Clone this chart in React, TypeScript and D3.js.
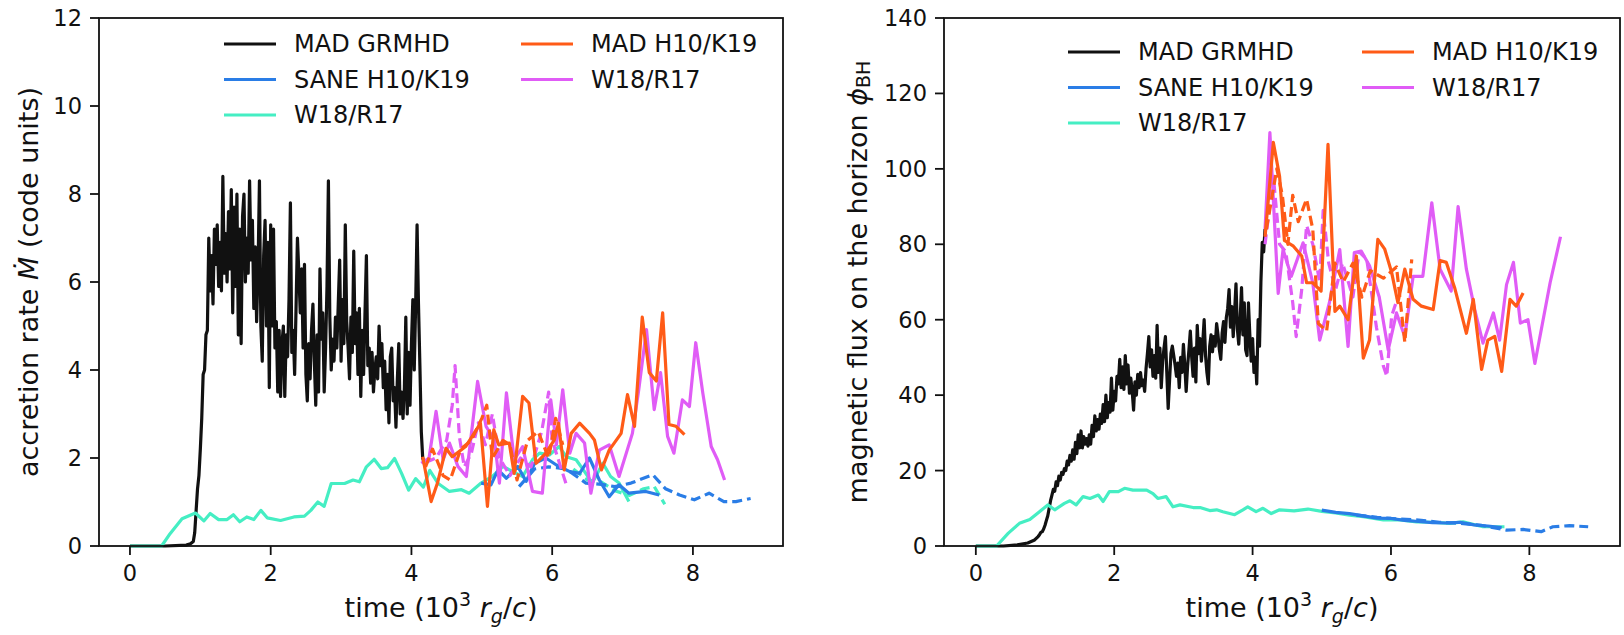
import React from 'react';
import * as d3 from 'd3';

type Pt = [number, number];

// ---- shared time grid for the dense MAD GRMHD runs ----
const madStart = 0.9;
const madStep = 0.02;

// ---- left panel: accretion rate ----
const madRateHead: Pt[] = [[0, 0], [0.5, 0], [0.8, 0.02], [0.86, 0.05]];
const madRateValues = [
  0.1, 0.3, 0.8, 1.3, 1.6, 2.2, 2.9, 3.9, 4.0, 4.8, 4.9, 7.0, 5.8, 6.6, 5.5, 7.2, 6.4, 7.3, 5.9, 6.9,
  5.8, 8.4, 6.2, 7.1, 6.0, 7.6, 6.3, 8.1, 5.3, 7.7, 5.9, 8.0, 4.8, 7.2, 4.6, 7.5, 8.0, 6.0, 7.0, 6.2,
  8.3, 6.5, 7.4, 5.4, 6.8, 5.1, 6.3, 8.3, 5.0, 4.2, 6.6, 7.4, 5.0, 6.9, 3.6, 7.3, 5.0, 7.2, 4.5, 5.1,
  3.5, 4.9, 3.4, 4.6, 5.0, 3.4, 4.8, 4.3, 5.6, 7.8, 4.4, 4.9, 3.9, 5.4, 7.0, 6.2, 5.3, 6.3, 4.5, 6.4,
  3.9, 3.3, 4.6, 3.8, 4.9, 5.5, 4.2, 3.2, 4.8, 3.5, 6.3, 4.7, 5.3, 3.5, 4.5, 5.9, 8.3, 5.2, 4.0, 4.7,
  4.2, 5.2, 4.5, 5.5, 6.5, 4.2, 5.6, 4.6, 7.3, 5.1, 4.5, 3.8, 5.2, 4.4, 6.7, 4.6, 5.3, 3.9, 5.4, 3.4,
  4.9, 3.9, 5.3, 6.6, 4.1, 4.5, 3.7, 4.4, 3.5, 4.0, 4.3, 3.8, 5.0, 4.1, 4.6, 3.6, 4.2, 3.1, 3.9, 2.8,
  4.3, 4.5, 3.3, 3.6, 2.7, 3.8, 4.6, 3.0, 3.5, 2.9, 3.6, 5.2, 3.0, 4.4, 3.2, 4.6, 5.6, 4.0, 5.5, 7.3,
  5.5, 4.1, 2.6, 2.0, 1.9,
];
const w18EarlyRate: Pt[] = [
  [0, 0], [0.45, 0], [0.57, 0.28], [0.74, 0.62], [0.93, 0.75], [1.05, 0.57], [1.14, 0.74], [1.26, 0.6],
  [1.38, 0.6], [1.47, 0.71], [1.56, 0.55], [1.66, 0.66], [1.76, 0.6], [1.86, 0.81], [1.95, 0.64],
  [2.14, 0.58], [2.33, 0.66], [2.48, 0.68], [2.57, 0.81], [2.67, 1.0], [2.76, 0.9], [2.86, 1.42],
  [3.05, 1.42], [3.17, 1.5], [3.26, 1.46], [3.36, 1.8], [3.47, 1.97], [3.57, 1.76], [3.66, 1.78],
  [3.76, 1.99], [3.86, 1.65], [3.96, 1.27], [4.06, 1.53], [4.17, 1.34], [4.26, 1.72], [4.38, 1.42],
  [4.54, 1.24], [4.71, 1.28], [4.82, 1.2], [4.99, 1.43], [5.15, 1.58], [5.3, 1.81], [5.44, 1.69],
  [5.58, 1.58], [5.72, 1.96], [5.82, 2.11], [5.96, 2.07], [6.1, 2.26], [6.2, 2.03], [6.34, 1.96],
  [6.46, 1.69], [6.57, 1.43], [6.72, 1.88], [6.83, 1.58], [6.95, 1.43], [7.09, 1.01],
];
const w18EarlyRateDash: Pt[] = [
  [6.3, 1.75], [6.5, 1.5], [6.7, 1.45], [6.9, 1.25], [7.1, 1.15], [7.3, 1.3], [7.45, 1.35], [7.6, 0.95],
];
const saneRate: Pt[] = [
  [4.99, 1.43], [5.13, 1.39], [5.23, 1.73], [5.35, 1.54], [5.51, 1.81], [5.63, 1.47], [5.75, 1.88],
  [5.91, 2.0], [6.06, 1.84], [6.25, 1.69], [6.39, 1.65], [6.53, 2.0], [6.67, 1.5], [6.81, 1.12],
  [6.95, 1.39], [7.09, 1.2], [7.33, 1.24], [7.52, 1.16],
];
const saneRateDash: Pt[] = [
  [5.53, 1.35], [5.75, 1.75], [5.95, 1.8], [6.2, 1.75], [6.48, 1.43], [6.7, 1.4], [6.89, 1.35],
  [7.12, 1.43], [7.43, 1.62], [7.61, 1.3], [7.81, 1.16], [8.02, 1.05], [8.23, 1.2], [8.44, 1.01],
  [8.61, 1.01], [8.82, 1.08],
];
const madHKRate: Pt[] = [
  [4.16, 2.03], [4.28, 1.01], [4.37, 1.43], [4.49, 2.22], [4.58, 2.03], [4.77, 2.26], [4.98, 2.79],
  [5.08, 0.9], [5.17, 2.64], [5.24, 2.3], [5.39, 2.34], [5.46, 1.65], [5.58, 3.4], [5.67, 3.25],
  [5.77, 1.88], [5.91, 2.11], [6.03, 2.41], [6.09, 2.79], [6.17, 1.73], [6.27, 2.56], [6.39, 2.79],
  [6.53, 2.56], [6.6, 2.41], [6.7, 1.73], [6.81, 2.18], [6.98, 2.56], [7.07, 3.44], [7.17, 2.72],
  [7.28, 5.2], [7.38, 3.94], [7.48, 3.75], [7.57, 5.3], [7.66, 2.76], [7.76, 2.72], [7.88, 2.53],
];
const madHKRateDash: Pt[] = [
  [4.2, 1.8], [4.3, 2.2], [4.45, 1.6], [4.55, 1.5], [4.7, 2.2], [4.85, 2.4], [5.0, 2.9], [5.07, 3.2],
  [5.15, 2.0], [5.3, 2.4], [5.4, 2.3], [5.5, 1.5], [5.65, 2.4], [5.8, 2.6], [5.95, 2.0], [6.05, 2.9],
  [6.15, 2.3],
];
const w18Rate: Pt[] = [
  [4.14, 1.88], [4.25, 2.0], [4.35, 3.06], [4.45, 1.96], [4.54, 2.34], [4.66, 1.81], [4.78, 1.58],
  [4.94, 3.74], [5.06, 2.72], [5.18, 2.41], [5.25, 1.43], [5.35, 3.48], [5.46, 1.96], [5.58, 2.26],
  [5.72, 1.24], [5.86, 1.2], [5.98, 3.32], [6.06, 2.3], [6.15, 3.55], [6.25, 2.11], [6.34, 2.56],
  [6.46, 2.34], [6.55, 1.2], [6.67, 2.18], [6.81, 2.3], [6.95, 1.58], [7.14, 2.56], [7.23, 3.55],
  [7.34, 4.92], [7.45, 3.1], [7.54, 3.94], [7.64, 2.49], [7.73, 2.11], [7.85, 3.32], [7.95, 3.17],
  [8.04, 4.62], [8.14, 3.48], [8.26, 2.26], [8.35, 1.96], [8.45, 1.5],
];
const w18RateDash: Pt[] = [
  [4.2, 1.9], [4.35, 2.0], [4.5, 2.4], [4.58, 3.2], [4.62, 4.1], [4.68, 2.5], [4.75, 1.8], [4.85, 2.1],
  [4.95, 2.8], [5.05, 2.3], [5.15, 3.0], [5.25, 2.0], [5.4, 1.6], [5.55, 2.0], [5.7, 1.8], [5.85, 2.6],
  [5.95, 3.5], [6.0, 2.4], [6.1, 1.9], [6.2, 1.4],
];

// ---- right panel: magnetic flux ----
const madFluxHead: Pt[] = [[0, 0], [0.4, 0], [0.6, 0.3], [0.75, 0.8], [0.85, 1.6]];
const madFluxValues = [
  2.5, 3.0, 3.6, 3.8, 4.5, 5.5, 6.8, 8.0, 10.0, 12.0, 13.5, 15.0, 14.5, 17.0, 16.0, 18.5, 17.5, 19.5, 19.0, 20.5,
  20.0, 22.5, 21.5, 24.0, 22.5, 25.5, 23.0, 27.5, 24.5, 29.5, 26.0, 30.5, 26.0, 29.0, 27.0, 28.5, 26.5, 29.5, 27.0, 32.0,
  29.0, 34.5, 30.5, 33.5, 31.0, 35.0, 32.5, 37.5, 33.0, 40.0, 34.0, 38.0, 35.5, 44.5, 36.0, 41.0, 38.5, 45.0, 43.0, 49.5,
  42.0, 47.5, 41.5, 50.5, 43.0, 48.0, 40.5, 44.5, 41.0, 36.0, 43.5, 40.0, 45.5, 42.0, 46.0, 42.5, 44.0, 41.0, 47.0, 51.0,
  55.5, 47.5, 52.0, 45.0, 50.5, 44.5, 58.5, 46.0, 52.5, 42.0, 49.0, 52.5, 55.5, 46.0, 36.5, 44.0, 51.0, 53.0, 50.5, 48.0,
  45.0, 48.5, 42.0, 50.0, 46.0, 53.5, 48.0, 41.0, 47.5, 52.0, 57.0, 50.0, 45.0, 52.5, 43.5, 58.5, 51.0, 55.0, 49.0, 54.0,
  60.0, 50.5, 46.0, 43.0, 53.0, 56.0, 51.5, 55.5, 53.0, 59.0, 56.0, 52.0, 49.5, 56.5, 59.5, 54.0, 60.5, 63.0, 68.0, 58.0,
  63.5, 55.5, 62.0, 69.5, 57.5, 53.5, 60.0, 68.5, 56.0, 64.5, 52.0, 50.5, 64.5, 56.0, 49.0, 55.0, 46.0, 50.0, 43.0, 60.0,
  53.0, 70.0, 80.5, 78.0, 84.0,
];
const w18EarlyFlux: Pt[] = [
  [0, 0], [0.3, 0], [0.47, 3.4], [0.63, 6], [0.78, 7], [0.92, 9.1], [1.04, 10.9], [1.14, 9.6],
  [1.28, 11.3], [1.36, 12], [1.45, 10.9], [1.55, 13.1], [1.65, 12.6], [1.77, 13.5], [1.84, 11.8],
  [1.93, 14.4], [2.06, 14.4], [2.15, 15.3], [2.27, 14.8], [2.47, 14.8], [2.56, 13.9], [2.63, 12.6],
  [2.75, 13.1], [2.85, 10.4], [2.95, 10.9], [3.14, 10.2], [3.24, 10.2], [3.38, 9.4], [3.48, 9.6],
  [3.57, 9.1], [3.74, 8.3], [3.86, 9.6], [3.93, 10.4], [4.05, 9.1], [4.15, 10], [4.27, 8.6],
  [4.39, 9.6], [4.6, 9.3], [4.8, 9.8], [5.0, 9.2], [5.2, 8.8], [5.4, 8.2], [5.6, 7.8], [5.89, 6.9],
  [6.1, 7.0], [6.37, 6.4], [6.6, 6.3], [6.85, 6.0], [7.04, 6.4], [7.33, 5.1], [7.64, 5.1],
];
const saneFlux: Pt[] = [
  [5.0, 9.5], [5.2, 8.9], [5.4, 8.6], [5.6, 8.0], [5.8, 7.4], [6.0, 7.3], [6.2, 6.8], [6.4, 6.5],
  [6.6, 6.2], [6.8, 6.1], [7.0, 6.3], [7.2, 5.6], [7.4, 5.3], [7.6, 4.9],
];
const saneFluxDash: Pt[] = [
  [5.5, 8.2], [5.8, 7.6], [6.1, 7.2], [6.4, 6.9], [6.7, 6.3], [7.0, 6.0], [7.3, 5.5], [7.67, 4.2],
  [7.91, 4.4], [8.17, 3.8], [8.34, 5.1], [8.58, 5.4], [8.85, 5.1],
];
const madHKFlux: Pt[] = [
  [4.18, 82], [4.3, 107], [4.39, 98], [4.46, 81], [4.59, 79.5], [4.71, 76.9], [4.78, 69.8], [4.87, 69.8],
  [4.99, 67.6], [5.09, 106.5], [5.19, 62.2], [5.26, 63.6], [5.38, 60], [5.5, 76.9], [5.6, 49.8],
  [5.69, 54.6], [5.81, 81.3], [5.91, 78.7], [6.01, 72.5], [6.1, 64.5], [6.2, 73.4], [6.32, 65.4],
  [6.44, 63.6], [6.61, 62.7], [6.71, 75.7], [6.8, 75.2], [6.92, 68.5], [7.09, 56.4], [7.19, 65.4],
  [7.31, 46.8], [7.4, 54.6], [7.5, 55.6], [7.6, 46.3], [7.72, 65.4], [7.81, 63.6], [7.91, 67.1],
];
const madHKFluxDash: Pt[] = [
  [4.2, 84], [4.35, 100], [4.43, 93], [4.51, 80], [4.58, 93], [4.66, 86], [4.78, 92], [4.87, 84],
  [4.95, 59], [5.07, 57], [5.19, 75], [5.31, 70], [5.45, 75], [5.58, 66], [5.7, 73], [5.89, 71],
  [6.08, 74], [6.2, 54], [6.3, 76],
];
const w18Flux: Pt[] = [
  [4.18, 84], [4.25, 109.6], [4.37, 67], [4.44, 78.6], [4.56, 71.5], [4.73, 80.4], [4.87, 69.8],
  [4.97, 54.6], [5.11, 64.5], [5.26, 78.6], [5.38, 52.9], [5.47, 77.8], [5.57, 78.2], [5.69, 74.3],
  [5.83, 66], [5.96, 52], [6.08, 61.8], [6.2, 55.5], [6.32, 71.5], [6.46, 71.5], [6.59, 91],
  [6.71, 73.4], [6.87, 67.6], [6.97, 90], [7.09, 73.4], [7.21, 62.7], [7.33, 53.8], [7.48, 61.8],
  [7.57, 54.6], [7.67, 69.3], [7.77, 75.2], [7.87, 59.1], [7.98, 60], [8.08, 48.4], [8.3, 69.8],
  [8.45, 82],
];
const w18FluxDash: Pt[] = [
  [4.18, 80], [4.3, 98], [4.39, 80], [4.48, 78], [4.58, 64.5], [4.63, 55.5], [4.71, 68], [4.78, 85],
  [4.87, 80], [4.97, 70], [5.02, 89], [5.1, 75], [5.2, 68], [5.3, 75], [5.45, 66], [5.54, 78],
  [5.65, 76], [5.79, 58], [5.89, 47.7], [5.94, 45], [6.01, 61], [6.1, 66],
];

const yTicksRate = [0, 2, 4, 6, 8, 10, 12];
const yTicksFlux = [0, 20, 40, 60, 80, 100, 120, 140];
const xTicks = [0, 2, 4, 6, 8];

const legendLabels = ['MAD GRMHD', 'SANE H10/K19', 'W18/R17', 'MAD H10/K19', 'W18/R17'];

const C_MAD = '#111111';
const C_SANE = '#2a7de6';
const C_W18E = '#45eec3';
const C_MADHK = '#ff5b17';
const C_W18 = '#e05cf6';

const FONT = 'DejaVu Sans, sans-serif';

const withGrid = (head: Pt[], values: number[]): Pt[] =>
  head.concat(values.map((v, i) => [madStart + i * madStep, v] as Pt));

type Series = { data: Pt[]; color: string; dash?: boolean; width?: number };

type PanelProps = {
  left: number; right: number; top: number; bottom: number;
  xDomain: [number, number]; yDomain: [number, number];
  yTicks: number[];
  series: Series[];
  legend: { x1: number; x2: number; y0: number };
  ylabel: React.ReactNode;
  ylabelX: number;
};

const Panel = ({ left, right, top, bottom, xDomain, yDomain, yTicks, series, legend, ylabel, ylabelX }: PanelProps) => {
  const x = d3.scaleLinear().domain(xDomain).range([left, right]);
  const y = d3.scaleLinear().domain(yDomain).range([bottom, top]);
  const line = d3.line<Pt>().x(d => x(d[0])).y(d => y(d[1]));
  const rowGap = 35.5;
  const legendItems = [
    { col: 0, row: 0, color: C_MAD, label: legendLabels[0] },
    { col: 0, row: 1, color: C_SANE, label: legendLabels[1] },
    { col: 0, row: 2, color: C_W18E, label: legendLabels[2] },
    { col: 1, row: 0, color: C_MADHK, label: legendLabels[3] },
    { col: 1, row: 1, color: C_W18, label: legendLabels[4] },
  ];
  const midX = (left + right) / 2;
  const midY = (top + bottom) / 2;
  return (
    <g fontFamily={FONT}>
      {series.map((s, i) => (
        <path key={i} d={line(s.data) ?? ''} fill="none" stroke={s.color}
          strokeWidth={s.width ?? 3.2} strokeDasharray={s.dash ? '10,5' : undefined}
          strokeLinejoin="round" />
      ))}
      <rect x={left} y={top} width={right - left} height={bottom - top} fill="none" stroke="#111" strokeWidth={1.8} />
      {yTicks.map(t => (
        <g key={t}>
          <line x1={left - 9} x2={left} y1={y(t)} y2={y(t)} stroke="#111" strokeWidth={1.8} />
          <text x={left - 17} y={y(t)} textAnchor="end" dominantBaseline="central" fontSize={22.5} fill="#111">{t}</text>
        </g>
      ))}
      {xTicks.map(t => (
        <g key={t}>
          <line x1={x(t)} x2={x(t)} y1={bottom} y2={bottom + 9} stroke="#111" strokeWidth={1.8} />
          <text x={x(t)} y={bottom + 35} textAnchor="middle" fontSize={22.5} fill="#111">{t}</text>
        </g>
      ))}
      {legendItems.map((it, i) => {
        const lx = it.col === 0 ? legend.x1 : legend.x2;
        const ly = legend.y0 + it.row * rowGap;
        return (
          <g key={i}>
            <line x1={lx} x2={lx + 52} y1={ly} y2={ly} stroke={it.color} strokeWidth={3.2} />
            <text x={lx + 70} y={ly} dominantBaseline="central" fontSize={24} fill="#111">{it.label}</text>
          </g>
        );
      })}
      <text x={midX} y={bottom + 71} textAnchor="middle" fontSize={27} fill="#111">
        time (10<tspan fontSize={19} dy={-11}>3</tspan>
        <tspan dy={11}> </tspan><tspan fontStyle="italic">r</tspan>
        <tspan fontStyle="italic" fontSize={19} dy={6}>g</tspan>
        <tspan dy={-6}>/</tspan><tspan fontStyle="italic">c</tspan>)
      </text>
      <text transform={`translate(${ylabelX},${midY}) rotate(-90)`} textAnchor="middle"
        dominantBaseline="central" fontSize={27} fill="#111">{ylabel}</text>
    </g>
  );
};

const App = () => {
  const madRate = withGrid(madRateHead, madRateValues);
  const madFlux = withGrid(madFluxHead, madFluxValues);
  const rateSeries: Series[] = [
    { data: madRate, color: C_MAD },
    { data: w18EarlyRate, color: C_W18E },
    { data: w18EarlyRateDash, color: C_W18E, dash: true },
    { data: saneRateDash, color: C_SANE, dash: true },
    { data: saneRate, color: C_SANE },
    { data: w18RateDash, color: C_W18, dash: true },
    { data: w18Rate, color: C_W18 },
    { data: madHKRateDash, color: C_MADHK, dash: true },
    { data: madHKRate, color: C_MADHK },
  ];
  const fluxSeries: Series[] = [
    { data: madFlux, color: C_MAD },
    { data: w18EarlyFlux, color: C_W18E },
    { data: saneFluxDash, color: C_SANE, dash: true },
    { data: saneFlux, color: C_SANE },
    { data: w18FluxDash, color: C_W18, dash: true },
    { data: w18Flux, color: C_W18 },
    { data: madHKFluxDash, color: C_MADHK, dash: true },
    { data: madHKFlux, color: C_MADHK },
  ];
  return (
    <svg width={1624} height={635} viewBox="0 0 1624 635"
      style={{ position: 'absolute', left: 0, top: 0, background: '#fff' }}>
      <rect width={1624} height={635} fill="#fff" />
      <Panel left={99} right={783} top={18} bottom={546} xDomain={[-0.44, 9.28]} yDomain={[0, 12]}
        yTicks={yTicksRate} series={rateSeries} legend={{ x1: 224, x2: 521, y0: 44 }}
        ylabelX={28}
        ylabel={<>accretion rate <tspan fontStyle="italic">Ṁ</tspan> (code units)</>} />
      <Panel left={944} right={1620} top={18} bottom={546} xDomain={[-0.46, 9.31]} yDomain={[0, 140]}
        yTicks={yTicksFlux} series={fluxSeries} legend={{ x1: 1068, x2: 1362, y0: 52 }}
        ylabelX={857}
        ylabel={<>magnetic flux on the horizon <tspan fontStyle="italic">ϕ</tspan><tspan fontSize={19} dy={6}>BH</tspan></>} />
    </svg>
  );
};

export default App;
